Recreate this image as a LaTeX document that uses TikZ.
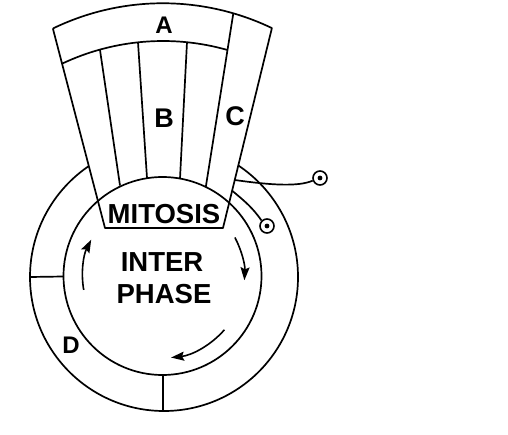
\documentclass[tikz,border=0pt]{standalone}
\usepackage{fontspec}
\setmainfont{Liberation Sans}
\usetikzlibrary{arrows.meta,calc}
\begin{document}
\begin{tikzpicture}[x=1pt,y=1pt,line width=1.7pt,line join=round,
  lbl/.style={inner sep=0pt,font=\fontsize{24}{24}\selectfont\bfseries},
  lblb/.style={inner sep=0pt,font=\fontsize{27}{27}\selectfont\bfseries},
  big/.style={inner sep=0pt,font=\fontsize{27.5}{27.5}\selectfont\bfseries},
  cyc/.style={-{Stealth[length=13pt,width=9pt,inset=2pt]},line width=1.6pt},
  pinnode/.style={circle,draw,minimum size=14pt,inner sep=0pt,line width=1.6pt}]
\useasboundingbox (0,0) rectangle (508,434);
\coordinate (oc) at (164,157);
\coordinate (ic) at (162.5,158);
% outer ring
\draw (oc) circle[radius=134];
% fan
\draw[fill=white] (53,405) -- (105,206) -- (223,206) -- (271.9,405.9)
  arc[start angle=64.35,end angle=115.65,radius=252] -- cycle;
% inner circle
\draw (ic) circle[radius=99];
% A / B boundary
\draw (62.06,370.32) arc[start angle=115.32,end angle=74.14,radius=236];
% columns
\draw (100,384) -- (120,248.5);
\draw (138,391.7) -- (147,256);
\draw (187,391.8) -- (180,255.5);
\draw (233.3,420.6) -- (205.8,247);
% ring separators
\draw (30,157) -- (63.5,157.5);
\draw (163,23.1) -- (163,59.1);
% cycle arrows
\draw[cyc] (ic) ++(190:80) arc[start angle=190,end angle=153,radius=80];
\draw[cyc] (ic) ++(28:82) arc[start angle=28,end angle=-3,radius=82];
\draw[cyc] (ic) ++(-41:82) arc[start angle=-41,end angle=-84,radius=82];
% pins
\node[pinnode] (upin) at (320,256) {};
\fill (upin.center) circle[radius=2.4];
\node[pinnode] (lpin) at (267,208) {};
\fill (lpin.center) circle[radius=2.4];
\coordinate (ustart) at (234.8,254);
\coordinate (lstart) at (232.5,243);
\draw (ustart) .. controls (270,249) and (298,247) .. (upin.200);
\draw (lstart) to[out=-40,in=125] (lpin.135);
% labels
\node[big] (mit) at (164,220) {MITOSIS};
\node[big] (int) at (162,172) {INTER};
\node[big] (pha) at (164,140) {PHASE};
\node[lbl] (la) at (164,409) {A};
\node[lblb] (lb) at (164,316) {B};
\node[lblb] (lc) at (235,318) {C};
\node[lbl] (ld) at (71,89) {D};
\end{tikzpicture}
\end{document}
